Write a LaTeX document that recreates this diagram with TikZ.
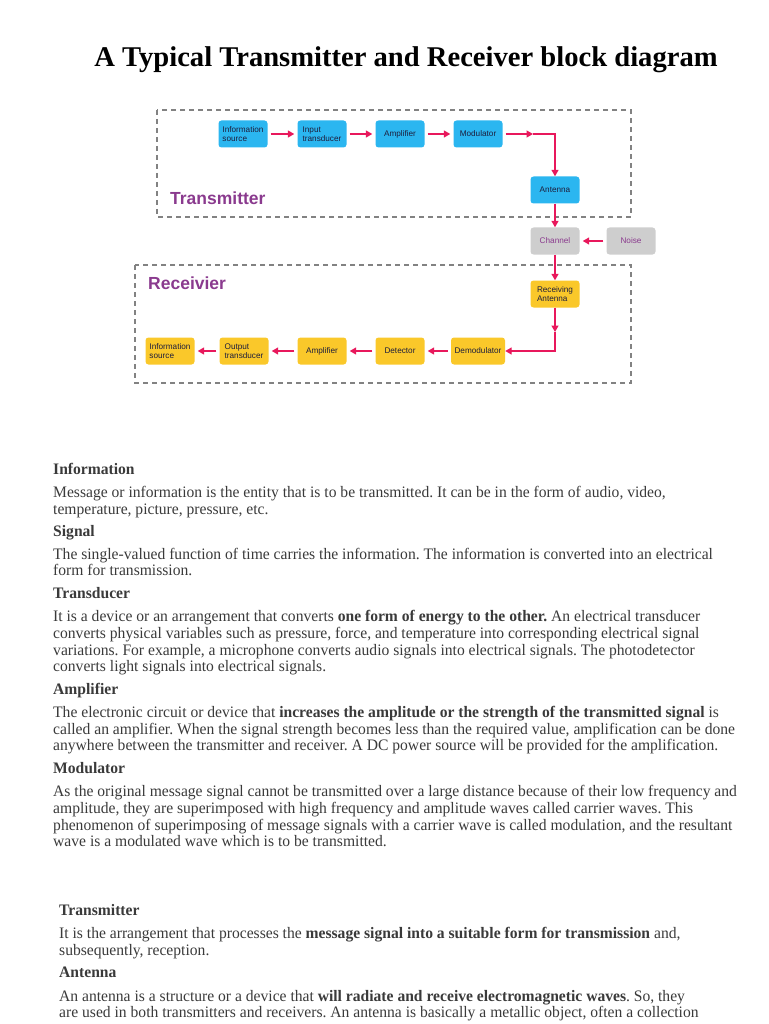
\documentclass[tikz,border=0pt]{standalone}
\usepackage{fontspec}
\setmainfont{Liberation Serif}
\newfontfamily\diagf{Liberation Sans}
\newfontfamily\bodyf[FakeStretch=0.975]{Liberation Serif}
\usetikzlibrary{arrows.meta}
\definecolor{boxblue}{RGB}{43,182,240}
\definecolor{boxyellow}{RGB}{250,200,42}
\definecolor{boxgray}{RGB}{206,206,206}
\definecolor{arrowred}{RGB}{232,24,92}
\definecolor{dashgray}{RGB}{130,130,130}
\definecolor{labpurple}{RGB}{138,58,142}
\definecolor{boxtext}{RGB}{30,30,60}
\definecolor{bodygray}{RGB}{58,58,58}
\frenchspacing
\tikzset{
  blk/.style={rounded corners=3pt, minimum width=49pt, minimum height=27pt, inner sep=2pt,
    font=\diagf\fontsize{8.2}{8.6}\selectfont, text=boxtext, align=left},
  bluebox/.style={blk, fill=boxblue},
  yellowbox/.style={blk, fill=boxyellow},
  graybox/.style={blk, fill=boxgray, text=labpurple},
  frame/.style={draw=dashgray, line width=1.6pt, dash pattern=on 5pt off 4pt},
  grouplabel/.style={font=\diagf\bfseries\fontsize{17.5}{20}\selectfont, text=labpurple, anchor=west, inner sep=0},
  flow/.style={draw=arrowred, line width=1.4pt, -{Triangle[length=6.5pt,width=7pt]}},
  bline/.style={anchor=base west, inner sep=0, font=\bodyf\fontsize{16}{18}\selectfont, text=bodygray},
  bhead/.style={bline, font=\bodyf\bfseries\fontsize{16}{18}\selectfont}
}
\begin{document}
\begin{tikzpicture}[x=1pt,y=-1pt]
\useasboundingbox (0,0) rectangle (768,1024);
% title
\node[font=\bfseries\fontsize{28.6}{32}\selectfont, anchor=base, inner sep=0] (title) at (406,67) {A Typical Transmitter and Receiver block diagram};

% frames
\draw[frame] (157,110) rectangle (631,217);
\draw[frame] (135,265) rectangle (631,383);
\node[grouplabel] (tlab) at (170,198) {Transmitter};
\node[grouplabel] (rlab) at (148,283) {Receivier};

% transmitter boxes
\node[bluebox] (isrc) at (243,134) {Information\\source};
\node[bluebox] (itr) at (322,134) {Input\\transducer};
\node[bluebox] (amp) at (400,134) {Amplifier};
\node[bluebox] (mod) at (478,134) {Modulator};
\node[bluebox] (ant) at (555,190) {Antenna};
% channel
\node[graybox] (chan) at (555,241) {Channel};
\node[graybox] (noise) at (631,241) {Noise};
% receiver boxes
\node[yellowbox] (rant) at (555,294) {Receiving\\Antenna};
\node[yellowbox, minimum width=54pt] (demod) at (478,351) {Demodulator};
\node[yellowbox] (det) at (400,351) {Detector};
\node[yellowbox] (ramp) at (322,351) {Amplifier};
\node[yellowbox] (otr) at (244,351) {Output\\transducer};
\node[yellowbox] (osrc) at (170,351) {Information\\source};

% connectors
\coordinate (c1) at (533,134);
\coordinate (c2) at (555,134);
\coordinate (c3) at (555,332);
\coordinate (c4) at (555,351);
\draw[flow] ([xshift=3pt]isrc.east) -- ([xshift=-3pt]itr.west);
\draw[flow] ([xshift=3pt]itr.east) -- ([xshift=-3pt]amp.west);
\draw[flow] ([xshift=3pt]amp.east) -- ([xshift=-3pt]mod.west);
\draw[flow] ([xshift=3pt]mod.east) -- (c1);
\draw[flow] (c1) -- (c2) -- (ant.north);
\draw[flow] (ant.south) -- (chan.north);
\draw[flow] ([xshift=-3pt]noise.west) -- ([xshift=3pt]chan.east);
\draw[flow] (chan.south) -- (rant.north);
\draw[flow] (rant.south) -- (c3);
\draw[flow] (c3) -- (c4) -- (demod.east);
\draw[flow] ([xshift=-3pt]demod.west) -- ([xshift=3pt]det.east);
\draw[flow] ([xshift=-3pt]det.west) -- ([xshift=3pt]ramp.east);
\draw[flow] ([xshift=-3pt]ramp.west) -- ([xshift=3pt]otr.east);
\draw[flow] ([xshift=-3pt]otr.west) -- ([xshift=3pt]osrc.east);

% body text
\node[bhead] (h1) at (53,474) {Information};
\node[bline] (l1) at (53,497) {Message or information is the entity that is to be transmitted. It can be in the form of audio, video,};
\node[bline] (l2) at (53,514) {temperature, picture, pressure, etc.};
\node[bhead] (h2) at (53,536) {Signal};
\node[bline] (l3) at (53,559) {The single-valued function of time carries the information. The information is converted into an electrical};
\node[bline] (l4) at (53,575) {form for transmission.};
\node[bhead] (h3) at (53,598) {Transducer};
\node[bline] (l5) at (53,621) {It is a device or an arrangement that converts \textbf{one form of energy to the other.} An electrical transducer};
\node[bline] (l6) at (53,638) {converts physical variables such as pressure, force, and temperature into corresponding electrical signal};
\node[bline] (l7) at (53,655) {variations. For example, a microphone converts audio signals into electrical signals. The photodetector};
\node[bline] (l8) at (53,671) {converts light signals into electrical signals.};
\node[bhead] (h4) at (53,694) {Amplifier};
\node[bline] (l9) at (53,717) {The electronic circuit or device that \textbf{increases the amplitude or the strength of the transmitted signal} is};
\node[bline] (l10) at (53,734) {called an amplifier. When the signal strength becomes less than the required value, amplification can be done};
\node[bline] (l11) at (53,750) {anywhere between the transmitter and receiver. A DC power source will be provided for the amplification.};
\node[bhead] (h5) at (53,773) {Modulator};
\node[bline] (l12) at (53,796) {As the original message signal cannot be transmitted over a large distance because of their low frequency and};
\node[bline] (l13) at (53,813) {amplitude, they are superimposed with high frequency and amplitude waves called carrier waves. This};
\node[bline] (l14) at (53,830) {phenomenon of superimposing of message signals with a carrier wave is called modulation, and the resultant};
\node[bline] (l15) at (53,846) {wave is a modulated wave which is to be transmitted.};
\node[bhead] (h6) at (59,915) {Transmitter};
\node[bline] (l16) at (59,938) {It is the arrangement that processes the \textbf{message signal into a suitable form for transmission} and,};
\node[bline] (l17) at (59,955) {subsequently, reception.};
\node[bhead] (h7) at (59,977) {Antenna};
\node[bline] (l18) at (59,1001) {An antenna is a structure or a device that \textbf{will radiate and receive electromagnetic waves}. So, they};
\node[bline] (l19) at (59,1017) {are used in both transmitters and receivers. An antenna is basically a metallic object, often a collection};
\end{tikzpicture}
\end{document}
